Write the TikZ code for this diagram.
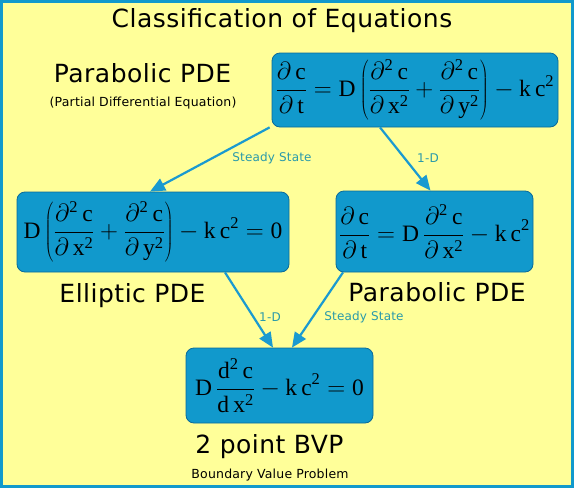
\documentclass[tikz,border=0pt]{standalone}
\usepackage{fontspec}
\setmainfont{DejaVu Sans}
\setmathrm{Liberation Serif}
\newfontfamily\spacedfont[LetterSpace=2]{DejaVu Sans}
\newfontfamily\smallspaced[LetterSpace=1.5]{DejaVu Sans}
\usetikzlibrary{arrows.meta,positioning}
\definecolor{bgyellow}{HTML}{FFFF99}
\definecolor{boxblue}{HTML}{1199CC}
\definecolor{boxedge}{HTML}{0A6A9A}
\definecolor{arrowblue}{HTML}{1A9AD0}
\definecolor{labelteal}{HTML}{2A9AAA}
\newcommand{\rmm}[1]{\mathrm{#1}}
\tikzset{
  eqbox/.style={draw=boxedge, line width=0.8pt, fill=boxblue, rounded corners=8pt, inner sep=0pt, font=\fontsize{23.5}{27}\selectfont},
  conn/.style={draw=arrowblue, line width=2.2pt, -{Triangle[length=15pt,width=13pt]}},
  biglabel/.style={font=\spacedfont\fontsize{25}{28}\selectfont, anchor=base, inner sep=0pt},
  smalllabel/.style={font=\smallspaced\fontsize{12.5}{14}\selectfont, anchor=base, inner sep=0pt},
  edgelabel/.style={font=\smallspaced\fontsize{12}{14}\selectfont, text=labelteal}
}
\begin{document}
\begin{tikzpicture}[x=1pt,y=-1pt]
\useasboundingbox (0,0) rectangle (574,488);
\fill[bgyellow] (0,0) rectangle (574,488);
\draw[boxblue, line width=3pt] (1.5,1.5) rectangle (572.5,486.5);
\node[biglabel] (title) at (282,27) {Classification of Equations};
\node[biglabel] (parab1) at (142.5,82) {Parabolic PDE};
\node[smalllabel] (pde) at (143,106) {(Partial Differential Equation)};
\node[eqbox, minimum width=286pt, minimum height=74pt] (top) at (415,90)
  {$\displaystyle \frac{\partial\,\rmm{c}}{\partial\,\rmm{t}} = \rmm{D}\left(\frac{\partial^{\rmm{2}}\,\rmm{c}}{\partial\,\rmm{x}^{\rmm{2}}} + \frac{\partial^{\rmm{2}}\,\rmm{c}}{\partial\,\rmm{y}^{\rmm{2}}}\right) - \rmm{k}\,\rmm{c}^{\rmm{2}}$};
\node[eqbox, minimum width=272pt, minimum height=80pt] (left) at (153,232)
  {$\displaystyle \rmm{D}\left(\frac{\partial^{\rmm{2}}\,\rmm{c}}{\partial\,\rmm{x}^{\rmm{2}}} + \frac{\partial^{\rmm{2}}\,\rmm{c}}{\partial\,\rmm{y}^{\rmm{2}}}\right) - \rmm{k}\,\rmm{c}^{\rmm{2}} = \rmm{0}$};
\node[eqbox, minimum width=197pt, minimum height=81pt] (right) at (434.5,231.5)
  {$\displaystyle \frac{\partial\,\rmm{c}}{\partial\,\rmm{t}} = \rmm{D}\,\frac{\partial^{\rmm{2}}\,\rmm{c}}{\partial\,\rmm{x}^{\rmm{2}}} - \rmm{k}\,\rmm{c}^{\rmm{2}}$};
\node[eqbox, minimum width=187pt, minimum height=75pt] (bottom) at (279.5,385.5)
  {$\displaystyle \rmm{D}\,\frac{\rmm{d}^{\rmm{2}}\,\rmm{c}}{\rmm{d}\,\rmm{x}^{\rmm{2}}} - \rmm{k}\,\rmm{c}^{\rmm{2}} = \rmm{0}$};
\node[biglabel] (ell) at (132.5,302) {Elliptic PDE};
\node[biglabel] (parab2) at (437,301) {Parabolic PDE};
\node[biglabel] (bvp) at (269.5,453) {2 point BVP};
\node[smalllabel] (bvpsub) at (270,478) {Boundary Value Problem};
\draw[conn] ([xshift=-2pt]top.south west) -- ([xshift=-3pt]left.north);
\draw[conn] ([xshift=-35pt]top.south) -- ([xshift=-4pt]right.north);
\draw[conn] ([xshift=72pt]left.south) -- ([xshift=-6.5pt]bottom.north);
\draw[conn] ([xshift=-91.5pt]right.south) -- ([xshift=12.5pt]bottom.north);
\node[edgelabel] (l1) at (272,158) {Steady State};
\node[edgelabel] (l2) at (428,158) {1-D};
\node[edgelabel] (l3) at (270,317) {1-D};
\node[edgelabel] (l4) at (364,317) {Steady State};
\end{tikzpicture}
\end{document}
